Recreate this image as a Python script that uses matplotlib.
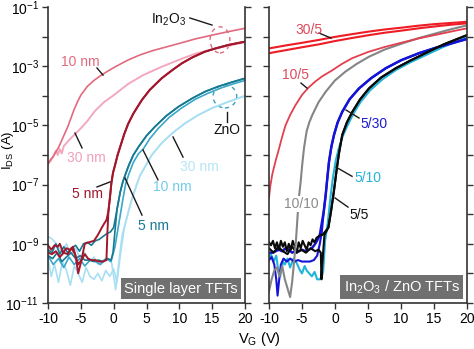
import numpy as np
import matplotlib
matplotlib.use("Agg")
import matplotlib.pyplot as plt
from matplotlib.patches import Ellipse
from matplotlib.ticker import FixedLocator, FuncFormatter, NullLocator

plt.rcParams['font.family'] = ['Liberation Sans', 'DejaVu Sans']
plt.rcParams['mathtext.fontset'] = 'custom'
plt.rcParams['mathtext.rm'] = 'Liberation Sans'
plt.rcParams['mathtext.it'] = 'Liberation Sans:italic'
plt.rcParams['mathtext.bf'] = 'Liberation Sans:bold'
plt.rcParams['mathtext.sf'] = 'Liberation Sans'
plt.rcParams['axes.unicode_minus'] = False

# ---------------- transfer curves, log10(I_DS / A) vs V_G (V) ----------------
# Single layer TFTs: In2O3
in2o3_10nm_v = [-10, -9.6, -9.2, -8.8, -8.4, -8.0, -7.5, -7.0, -6.5, -6.0, -5.5, -5.0, -4.0, -3.0,
                -2.0, -1.0, 0, 1, 2.2, 4, 6, 8, 10, 12.4, 15, 17.5, 20]
in2o3_10nm_log = [-6.3, -6.15, -6.05, -5.9, -5.75, -5.55, -5.3, -5.05, -4.75, -4.45, -4.2, -3.98, -3.68,
                  -3.48, -3.32, -3.18, -3.05, -2.93, -2.79, -2.62, -2.47, -2.35, -2.23, -2.08, -1.95,
                  -1.83, -1.72]

in2o3_30nm_v = [-10, -9.6, -9.2, -8.8, -8.5, -8.2, -7.9, -7.6, -7.2, -6.6, -6.0, -5.0, -4.0, -2.8, -1.5,
                0, 2.2, 4.5, 7.3, 10, 12.4, 15, 17.5, 20]
in2o3_30nm_log = [-6.3, -6.2, -6.05, -5.85, -6.0, -5.8, -5.95, -5.7, -5.6, -5.45, -5.32, -5.1, -4.85,
                  -4.5, -4.22, -3.98, -3.6, -3.3, -3.02, -2.78, -2.58, -2.43, -2.31, -2.19]

in2o3_5nm_on_v = [-1.1, -0.8, -0.55, -0.35, -0.1, 0.2, 0.6, 1.0, 1.6, 2.2, 3.0, 4.3, 5.5, 7.3, 9.0,
                  10.4, 12.0, 13.9, 15.5, 17.5, 20]
in2o3_5nm_on_log = [-8.2, -7.9, -7.4, -6.95, -6.6, -6.35, -6.0, -5.72, -5.3, -4.95, -4.6, -4.14, -3.8,
                    -3.41, -3.12, -2.9, -2.7, -2.51, -2.4, -2.28, -2.17]
in2o3_5nm_fwd_v = [-10, -9.5, -9.0, -8.5, -8.2, -7.7, -7.2, -6.7, -6.2, -5.8, -5.4, -4.9, -4.4, -3.8,
                   -3.0, -2.4, -1.8, -1.4]
in2o3_5nm_fwd_log = [-9.05, -9.2, -9.05, -9.1, -9.0, -9.3, -9.15, -9.2, -9.1, -9.4, -10.0, -9.55, -9.0,
                     -8.95, -8.9, -8.7, -8.45, -8.3]
in2o3_5nm_rev_v = [-10, -9.4, -8.8, -8.2, -7.6, -7.0, -6.4, -5.9, -5.4, -4.9, -4.4, -3.9, -3.4, -2.8,
                   -2.2, -1.6, -1.1, -0.95]
in2o3_5nm_rev_log = [-9.3, -9.35, -9.25, -9.45, -9.3, -9.35, -9.15, -9.35, -9.7, -9.55, -9.35, -9.5,
                     -9.55, -9.55, -9.6, -9.6, -9.55, -8.6]

# Single layer TFTs: ZnO
zno_5nm_on_v = [0.0, 0.5, 1.0, 1.4, 1.8, 2.3, 3.0, 3.8, 5.0, 6.3, 8.0, 9.85, 12.0, 13.9, 16.0, 18.0, 20]
zno_5nm_on_log = [-8.45, -7.85, -7.25, -6.9, -6.65, -6.35, -6.0, -5.72, -5.35, -5.04, -4.68, -4.37,
                  -4.08, -3.86, -3.68, -3.54, -3.41]
zno_5nm_fwd_v = [-10, -9.4, -8.8, -8.2, -7.6, -7.0, -6.4, -5.8, -5.2, -4.6, -4.0, -3.4, -2.8, -2.2,
                 -1.6, -1.0, -0.5]
zno_5nm_fwd_log = [-9.2, -9.3, -9.0, -9.35, -9.1, -9.3, -9.15, -9.05, -9.25, -9.0, -8.95, -9.05, -8.9,
                   -8.85, -8.75, -8.65, -8.6]
zno_5nm_rev_v = [-10, -9.3, -8.6, -7.9, -7.2, -6.5, -5.8, -5.1, -4.4, -3.7, -3.0, -2.3, -1.6, -0.9,
                 -0.4, -0.1]
zno_5nm_rev_log = [-9.4, -9.5, -9.3, -9.6, -9.45, -9.3, -9.5, -9.4, -9.55, -9.55, -9.6, -9.55, -9.6,
                   -9.5, -9.55, -9.3]

zno_10nm_v = [-10, -9.2, -8.4, -7.6, -6.8, -6.0, -5.2, -4.4, -3.6, -2.8, -2.0, -1.2, -0.4, 0.2, 0.8,
              1.4, 1.8, 2.3, 3.0, 3.8, 4.5, 5.5, 6.8, 8.5, 10.3, 12.4, 14.3, 16.3, 18.2, 20]
zno_10nm_log = [-9.4, -9.7, -9.5, -9.8, -9.45, -9.7, -9.5, -9.75, -9.55, -9.6, -9.7, -9.5, -9.6, -9.1,
                -8.3, -7.5, -7.0, -6.65, -6.25, -5.95, -5.8, -5.45, -5.1, -4.72, -4.42, -4.12, -3.92,
                -3.74, -3.6, -3.48]

zno_30nm_on_v = [2.2, 2.74, 3.5, 4.0, 4.77, 5.8, 7.3, 9.0, 10.87, 12.8, 14.93, 17.5, 20]
zno_30nm_on_log = [-7.95, -7.52, -7.0, -6.7, -6.4, -6.0, -5.6, -5.25, -4.93, -4.66, -4.42, -4.2, -4.0]
zno_30nm_fwd_v = [-10, -9.3, -8.6, -7.9, -7.2, -6.5, -5.8, -5.1, -4.4, -3.7, -3.0, -2.3, -1.6, -0.9,
                  -0.3, 0.3, 0.8, 1.3]
zno_30nm_fwd_log = [-8.75, -8.85, -9.05, -9.3, -9.0, -9.35, -9.15, -9.5, -9.3, -9.6, -9.45, -9.7, -9.55,
                    -9.5, -9.65, -10.55, -9.6, -8.7]
zno_30nm_rev_v = [-10, -9.5, -9.0, -8.4, -7.8, -7.2, -6.6, -6.0, -5.4, -4.8, -4.2, -3.6, -3.0, -2.4,
                  -1.8, -1.2, -0.6, 0.0, 0.5, 1.0, 1.6]
zno_30nm_rev_log = [-9.5, -10.1, -9.7, -10.3, -9.6, -9.9, -10.4, -9.75, -10.0, -10.3, -9.8, -10.1, -10.2,
                    -10.0, -10.25, -9.9, -10.1, -9.85, -10.3, -9.4, -8.5]

# In2O3 / ZnO heterojunction TFTs (layer thicknesses in nm)
h_30_5_a_v = [-10, -7.5, -5, -2.4, 0, 2.5, 5.15, 7.5, 10, 12.7, 15, 17.5, 20]
h_30_5_a_log = [-2.40, -2.30, -2.21, -2.11, -2.01, -1.92, -1.83, -1.76, -1.70, -1.63, -1.58, -1.54, -1.50]
h_30_5_b_v = [-10, -7.5, -5, -2.4, 0, 2.5, 5.15, 7.5, 10, 12.7, 15, 17.5, 20]
h_30_5_b_log = [-2.56, -2.46, -2.36, -2.26, -2.15, -2.05, -1.95, -1.87, -1.80, -1.72, -1.66, -1.60, -1.55]

h_10_5_v = [-10, -9.8, -9.5, -9.0, -8.5, -8.0, -7.5, -6.8, -6.0, -5.0, -4.0, -3.0, -2.0, -0.5, 1.0, 2.6,
            5.0, 7.7, 10.0, 12.7, 15.5, 17.8, 20]
h_10_5_log = [-7.45, -7.05, -6.65, -6.2, -5.8, -5.38, -5.0, -4.65, -4.32, -3.97, -3.72, -3.52, -3.35,
              -3.15, -2.93, -2.73, -2.52, -2.34, -2.21, -2.06, -1.93, -1.82, -1.72]

h_10_10_v = [-10, -9.6, -9.2, -8.8, -8.4, -8.0, -7.6, -7.2, -6.8, -6.5, -6.2, -5.95, -5.8, -5.5, -5.2,
             -5.0, -4.7, -4.3, -3.9, -3.44, -2.5, -1.4, 0.0, 1.6, 3.3, 5.15, 7.5, 10.2, 12.7, 15.3,
             17.6, 20]
h_10_10_log = [-10.6, -10.2, -9.9, -9.8, -10.1, -9.75, -10.2, -10.5, -10.8, -10.3, -9.6, -9.0, -8.5,
               -7.5, -6.9, -6.4, -5.77, -5.2, -4.9, -4.65, -4.22, -3.86, -3.48, -3.18, -2.92, -2.68,
               -2.44, -2.23, -2.05, -1.89, -1.75, -1.62]

h_5_30_on_v = [-2.0, -1.7, -1.41, -1.15, -0.91, -0.55, -0.15, 0.4, 1.1, 2.2, 3.64, 5.5, 7.68, 10.0,
               12.73, 15.5, 17.8, 20]
h_5_30_on_log = [-8.6, -7.9, -7.35, -6.75, -6.23, -5.72, -5.32, -4.9, -4.54, -4.12, -3.75, -3.4, -3.07,
                 -2.8, -2.56, -2.36, -2.22, -2.08]
h_5_30_fwd_v = [-10, -9.5, -9.0, -8.5, -8.0, -7.5, -7.0, -6.5, -6.0, -5.5, -5.0, -4.5, -4.0, -3.5,
                -3.0, -2.6, -2.3]
h_5_30_fwd_log = [-9.3, -9.3, -9.25, -9.2, -9.25, -9.15, -9.2, -9.3, -9.25, -9.25, -9.2, -9.25, -9.2,
                  -9.15, -9.0, -8.85, -8.7]
h_5_30_rev_v = [-10, -9.6, -9.2, -8.9, -8.7, -8.5, -8.2, -7.8, -7.3, -6.8, -6.2, -5.6, -5.0, -4.4,
                -3.8, -3.2, -2.7, -2.3]
h_5_30_rev_log = [-9.55, -9.45, -9.7, -10.2, -10.75, -10.3, -9.7, -9.5, -9.6, -9.5, -9.6, -9.55, -9.6,
                  -9.6, -9.6, -9.55, -9.4, -9.0]

h_5_10_v = [-10, -9.7, -9.3, -8.9, -8.6, -8.3, -7.9, -7.6, -7.2, -6.8, -6.3, -5.8, -5.3, -5.0, -4.6,
            -4.3, -3.9, -3.5, -3.1, -2.7, -2.3, -2.0, -1.8, -1.5, -1.1, -0.65, -0.3, 0.1, 0.6, 1.2,
            1.9, 2.8, 3.9, 5.3, 7.2, 9.3, 11.5, 13.8, 16.5, 20]
h_5_10_log = [-9.5, -9.35, -9.6, -9.4, -9.9, -10.1, -9.6, -9.7, -9.5, -9.8, -9.5, -9.65, -9.9, -10.0,
              -9.75, -9.9, -10.0, -10.1, -9.95, -10.2, -10.2, -10.1, -9.95, -8.9, -8.3, -7.35, -6.75,
              -6.2, -5.75, -5.35, -5.0, -4.6, -4.2, -3.82, -3.44, -3.12, -2.86, -2.62, -2.34, -2.02]

h_5_5_on_v = [-1.6, -1.0, -0.6, -0.15, 0.25, 0.6, 1.1, 1.8, 2.63, 3.8, 5.15, 7.0, 9.2, 11.5, 13.7,
              16.5, 20]
h_5_5_on_log = [-8.7, -8.45, -7.9, -7.2, -6.5, -5.95, -5.32, -4.9, -4.54, -4.12, -3.75, -3.38, -3.07,
                -2.8, -2.56, -2.26, -1.95]
h_5_5_fwd_v = [-10, -9.7, -9.4, -9.1, -8.8, -8.5, -8.2, -7.9, -7.6, -7.3, -7.0, -6.7, -6.4, -6.1, -5.8,
               -5.5, -5.2, -4.9, -4.6, -4.3, -4.0, -3.7, -3.4, -3.1, -2.8, -2.5, -2.2, -1.9]
h_5_5_fwd_log = [-8.95, -9.05, -8.9, -9.15, -8.95, -9.2, -8.9, -9.1, -8.95, -9.25, -9.0, -9.2, -8.9,
                 -9.1, -9.3, -8.95, -9.15, -8.9, -9.05, -9.2, -8.95, -9.05, -8.85, -8.95, -8.8, -8.75,
                 -8.7, -8.7]
h_5_5_rev_v = [-10, -9.3, -8.6, -7.9, -7.2, -6.5, -5.8, -5.1, -4.4, -3.7, -3.0, -2.5, -2.15, -2.05,
               -1.9, -1.7]
h_5_5_rev_log = [-9.15, -9.3, -9.1, -9.25, -9.35, -9.1, -9.3, -9.2, -9.3, -9.15, -9.25, -9.2, -9.3,
                 -10.2, -9.6, -9.0]

# colours
c_in10, c_in30, c_in5 = '#e26a7e', '#f3a8be', '#a3172d'
c_zn5, c_zn10, c_zn30 = '#177a93', '#3aa7c7', '#a8dff3'
c_30_5, c_10_5, c_10_10 = '#ee1c25', '#e2404f', '#858585'
c_5_30, c_5_10, c_5_5 = '#1414d6', '#22b4d8', '#0a0a0a'


def cur(logs):
    return np.power(10.0, np.asarray(logs, dtype=float))


def joined(v_off, l_off, v_on, l_on):
    return list(v_off) + list(v_on), list(l_off) + list(l_on)


fig = plt.figure(figsize=(4.74, 3.49), dpi=100)
axL = fig.add_axes([48 / 474, 46 / 349, 197 / 474, 296 / 349])
axR = fig.add_axes([269 / 474, 46 / 349, 198 / 474, 296 / 349])

# ---- left panel ----
lw = 1.2
v, l = joined(zno_30nm_fwd_v, zno_30nm_fwd_log, zno_30nm_on_v, zno_30nm_on_log)
axL.plot(v, cur(l), color=c_zn30, lw=lw)
v, l = joined(zno_30nm_rev_v, zno_30nm_rev_log, zno_30nm_on_v, zno_30nm_on_log)
axL.plot(v, cur(l), color=c_zn30, lw=lw)
axL.plot(zno_10nm_v, cur(zno_10nm_log), color=c_zn10, lw=lw)
v, l = joined(zno_5nm_fwd_v, zno_5nm_fwd_log, zno_5nm_on_v, zno_5nm_on_log)
axL.plot(v, cur(l), color=c_zn5, lw=lw)
v, l = joined(zno_5nm_rev_v, zno_5nm_rev_log, zno_5nm_on_v[1:], zno_5nm_on_log[1:])
axL.plot(v, cur(l), color=c_zn5, lw=lw)
axL.plot(in2o3_30nm_v, cur(in2o3_30nm_log), color=c_in30, lw=1.4)
axL.plot(in2o3_10nm_v, cur(in2o3_10nm_log), color=c_in10, lw=lw)
v, l = joined(in2o3_5nm_fwd_v, in2o3_5nm_fwd_log, in2o3_5nm_on_v, in2o3_5nm_on_log)
axL.plot(v, cur(l), color=c_in5, lw=1.4)
v, l = joined(in2o3_5nm_rev_v, in2o3_5nm_rev_log, in2o3_5nm_on_v[1:], in2o3_5nm_on_log[1:])
axL.plot(v, cur(l), color=c_in5, lw=1.4)

# ---- right panel ----
axR.plot(h_5_10_v, cur(h_5_10_log), color=c_5_10, lw=1.5)
v, l = joined(h_5_30_rev_v, h_5_30_rev_log, h_5_30_on_v, h_5_30_on_log)
axR.plot(v, cur(l), color=c_5_30, lw=1.5)
v, l = joined(h_5_30_fwd_v, h_5_30_fwd_log, h_5_30_on_v[1:], h_5_30_on_log[1:])
axR.plot(v, cur(l), color=c_5_30, lw=1.8)
v, l = joined(h_5_5_rev_v, h_5_5_rev_log, h_5_5_on_v, h_5_5_on_log)
axR.plot(v, cur(l), color=c_5_5, lw=1.5)
v, l = joined(h_5_5_fwd_v, h_5_5_fwd_log, h_5_5_on_v[1:], h_5_5_on_log[1:])
axR.plot(v, cur(l), color=c_5_5, lw=1.5)
axR.plot(h_10_10_v, cur(h_10_10_log), color=c_10_10, lw=1.5)
axR.plot(h_10_5_v, cur(h_10_5_log), color=c_10_5, lw=1.3)
axR.plot(h_30_5_a_v, cur(h_30_5_a_log), color=c_30_5, lw=1.5)
axR.plot(h_30_5_b_v, cur(h_30_5_b_log), color=c_30_5, lw=1.5)

# ---- axes styling ----
major = [10.0 ** e for e in range(-11, 0)]


def ylab(val, pos):
    e = int(round(np.log10(val)))
    return r'$10^{%d}$' % e if e % 2 else ''


for ax in (axL, axR):
    ax.set_yscale('log')
    ax.set_xlim(-10, 20)
    ax.set_ylim(1e-11, 1e-1)
    ax.set_xticks([-10, -5, 0, 5, 10, 15, 20])
    ax.yaxis.set_major_locator(FixedLocator(major))
    ax.yaxis.set_minor_locator(NullLocator())
    ax.spines['top'].set_visible(False)
    for s in ('left', 'right', 'bottom'):
        ax.spines[s].set_linewidth(1.2)
        ax.spines[s].set_color('#333333')
    ax.tick_params(axis='both', which='major', direction='out', length=4.5, width=1.0,
                   color='#333333', labelsize=10, pad=2)
    ax.tick_params(axis='y', left=True, right=True)

axL.yaxis.set_major_formatter(FuncFormatter(ylab))
axR.yaxis.set_major_formatter(FuncFormatter(lambda v, p: ''))

fig.text(8 / 474, 1 - 150 / 349, r'I$_\mathregular{DS}$ (A)', rotation=90, ha='center',
         va='center', fontsize=9.5)
fig.text(259 / 474, 1 - 339 / 349, r'V$_\mathregular{G}$ (V)', ha='center', va='center',
         fontsize=10.5)

box = dict(boxstyle='square,pad=0.22', fc='#707070', ec='none')
axL.text(0.965, 0.025, 'Single layer TFTs', transform=axL.transAxes, ha='right', va='bottom',
         color='white', fontsize=10.5, bbox=box)
axR.text(0.965, 0.025, r'In$_2$O$_3$ / ZnO TFTs', transform=axR.transAxes, ha='right',
         va='bottom', color='white', fontsize=10.5, bbox=box)


def label(ax, v, lg, s, color, **kw):
    ax.text(v, 10.0 ** lg, s, color=color, fontsize=10, ha='center', va='center', **kw)


def leader(ax, v0, l0, v1, l1, color='#1a1a1a'):
    ax.plot([v0, v1], [10.0 ** l0, 10.0 ** l1], color=color, lw=1.0)


# left panel annotations
label(axL, -5.13, -2.86, '10 nm', c_in10)
leader(axL, -2.54, -3.06, -1.62, -3.30)
label(axL, -4.21, -6.10, '30 nm', '#f0a0b8')
leader(axL, -5.89, -5.26, -4.82, -5.76)
label(axL, -3.91, -7.32, '5 nm', c_in5)
leader(axL, -2.54, -7.08, -0.56, -6.91)
label(axL, 5.99, -8.40, '5 nm', c_zn5)
leader(axL, 1.73, -6.78, 4.31, -8.03)
label(axL, 8.88, -7.08, '10 nm', '#72cbea')
leader(axL, 4.47, -5.83, 6.75, -6.84)
label(axL, 13.0, -6.41, '30 nm', '#b6e5f5')
leader(axL, 9.04, -5.39, 10.56, -6.07)
label(axL, 8.43, -1.44, r'In$_2$O$_3$', '#111111')
leader(axL, 11.6, -1.37, 14.97, -1.61)
label(axL, 17.26, -5.16, 'ZnO', '#111111')
leader(axL, 17.26, -4.55, 17.26, -4.89)

axL.add_patch(Ellipse((0.873, 0.889), 0.10, 0.088, transform=axL.transAxes, fill=False,
                      ec=c_in10, lw=1.0, ls=(0, (3, 3))))
axL.add_patch(Ellipse((0.898, 0.698), 0.12, 0.078, transform=axL.transAxes, fill=False,
                      ec='#3aa0c0', lw=1.0, ls=(0, (3, 3))))

# right panel annotations
label(axR, -3.94, -1.78, '30/5', '#dd4a5c')
leader(axR, -2.42, -1.88, -0.6, -2.05)
label(axR, -6.06, -3.30, '10/5', '#dd4a5c')
leader(axR, -5.15, -3.57, -4.24, -3.74)
label(axR, 5.9, -4.95, '5/30', '#1c1cd0')
leader(axR, 1.67, -4.48, 3.64, -4.75)
label(axR, 5.0, -6.78, '5/10', '#26b2d9')
leader(axR, 0.15, -6.41, 2.58, -6.72)
label(axR, 3.64, -8.03, '5/5', '#111111')
leader(axR, 0.0, -7.45, 1.97, -7.76)
label(axR, -5.15, -7.66, '10/10', '#8a8a8a',
      bbox=dict(boxstyle='square,pad=0.05', fc='white', ec='none'))

fig.savefig('out.png', dpi=100)
